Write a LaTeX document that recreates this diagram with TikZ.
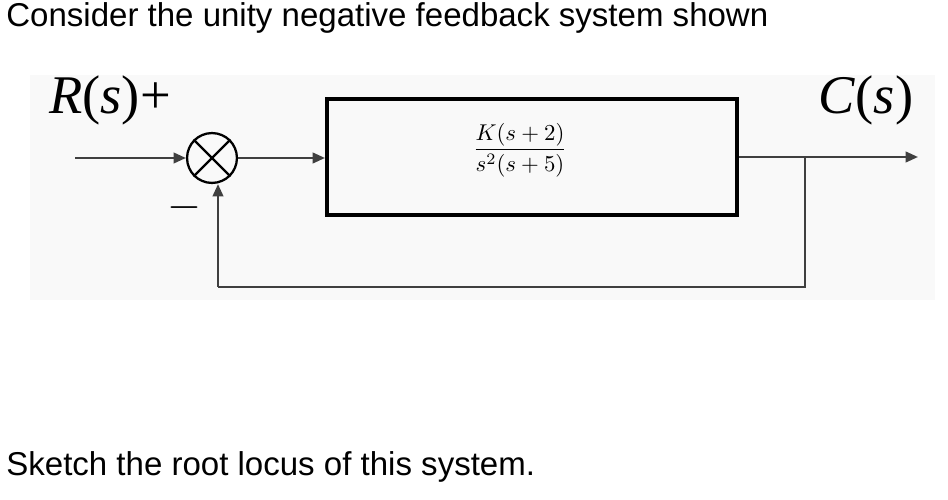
\documentclass[tikz,border=0pt]{standalone}
\usepackage{fontspec}
\setmainfont{Liberation Sans}
\newfontfamily\tnr{Liberation Serif}
\usetikzlibrary{arrows.meta}
\begin{document}
\begin{tikzpicture}[x=0.02cm,y=-0.02cm,
  conn/.style={line width=1.3pt,draw=black!75,-{Triangle[length=7pt,width=6pt]}},
  line/.style={line width=1.3pt,draw=black!75},
  txt/.style={anchor=west,inner sep=0pt,font=\fontsize{18.8}{21}\selectfont},
  big/.style={inner sep=0pt,font=\tnr\fontsize{31}{33}\selectfont}]
\useasboundingbox (0,0) rectangle (948,500);
\fill[black!2.5] (30,75) rectangle (935,300);
\node[txt] (t1) at (6,18) {Consider the unity negative feedback system shown};
\node[txt] (t2) at (6,467) {Sketch the root locus of this system.};
\node[big] (R) at (110,100) {\textit{R}(\textit{s})+};
\node[big] (C) at (866,100) {\textit{C}(\textit{s})};
\node[draw,circle,line width=1.3pt,minimum size=40pt*0.71,inner sep=0pt] (S) at (212,158) {};
\draw[line width=1.3pt] (S.45) -- (S.225) (S.135) -- (S.-45);
\node[draw,line width=2.5pt,minimum width=410*0.02cm,minimum height=116*0.02cm,anchor=north west] (G) at (325,97) {};
\node[scale=1.3] (F) at (520,150) {$\displaystyle\frac{K(s+2)}{s^2(s+5)}$};
\coordinate (in) at (75,158);
\coordinate (out) at (918,157);
\coordinate (tap) at (805,157);
\coordinate (b1) at (805,287);
\coordinate (b2) at (218,287);
\draw[conn] (in) -- (S.west);
\draw[conn] (S.east) -- (G.west|-S.east);
\draw[conn] (G.east|-out) -- (out);
\draw[line] (tap) -- (b1) -- (b2);
\draw[conn] (b2) -- (S.south-|b2);
\node[big] (m) at (184,208) {$-$};
\end{tikzpicture}
\end{document}
